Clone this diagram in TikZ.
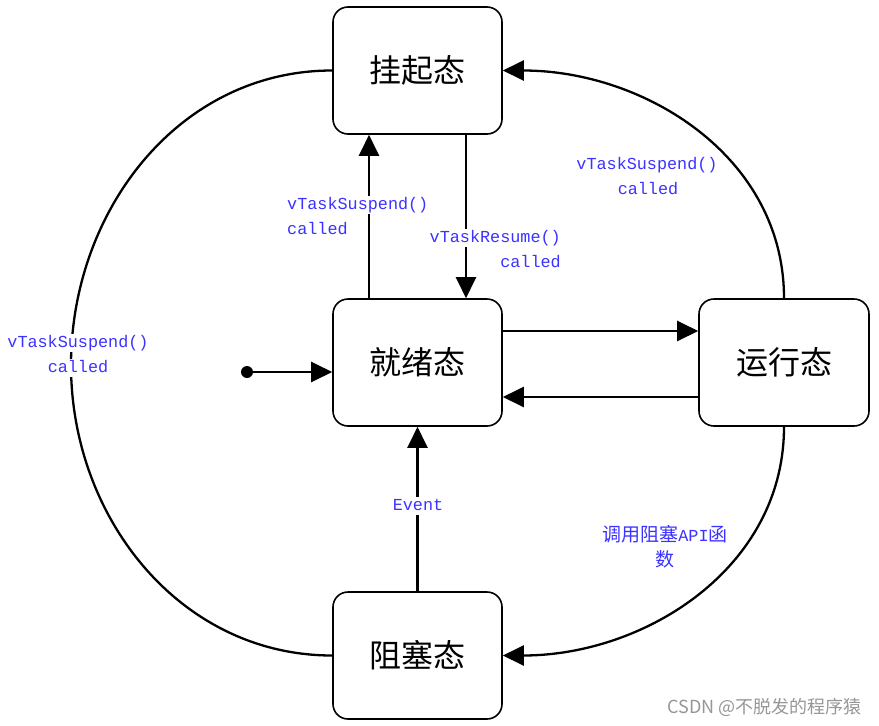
\documentclass[tikz,border=0pt]{standalone}
\usepackage{fontspec}
\newfontfamily\cjk{Noto Sans CJK SC}
\setmonofont{Liberation Mono}
\usetikzlibrary{arrows.meta}
\definecolor{lblue}{RGB}{60,50,255}
\definecolor{wm}{RGB}{150,150,150}
\tikzset{
  statebox/.style={draw, line width=1.6pt, rounded corners=15pt, minimum width=169pt, minimum height=127pt, inner sep=0pt, font=\cjk\fontsize{32}{38}\selectfont},
  conn/.style={line width=2.3pt},
  arr/.style={line width=2.3pt, -{Triangle[length=21pt,width=20pt]}},
  lbl/.style={fill=white, text=lblue, inner sep=1pt, text height=12pt, text depth=3.5pt, font=\ttfamily\fontsize{16.8}{25}\selectfont},
  lblcjk/.style={lbl, font=\fontsize{19}{25}\selectfont},
}
\begin{document}
\begin{tikzpicture}[x=1pt,y=-1pt]
\useasboundingbox (0,0) rectangle (879,726);
% states
\node[statebox] (susp) at (417.5,70.5) {挂起态};
\node[statebox] (rdy) at (417.5,362.5) {就绪态};
\node[statebox, minimum width=170pt] (run) at (784,362.5) {运行态};
\node[statebox] (blk) at (417.5,655.5) {阻塞态};
% initial
\node[circle, fill, inner sep=0pt, minimum size=12pt] (init) at (247,372) {};
\coordinate (lft) at (71,365);
% connectors
\draw[arr] (init) -- (init -| rdy.west);
\draw[arr] ([xshift=-48.5pt]rdy.north) -- ([xshift=-48.5pt]susp.south);
\draw[arr] ([xshift=48.5pt]susp.south) -- ([xshift=48.5pt]rdy.north);
\draw[arr] ([yshift=31.5pt]rdy.east) -- ([yshift=31.5pt]run.west);
\draw[arr] ([yshift=-34.5pt]run.west) -- ([yshift=-34.5pt]rdy.east);
\draw[arr] (blk.north) -- (rdy.south);
\draw[arr] (run.north) to[out=90,in=0] (susp.east);
\draw[arr] (run.south) to[out=-90,in=0] (blk.east);
\draw[conn] (susp.west) to[out=180,in=90] (lft) to[out=-90,in=180] (blk.west);
% labels
\node[lbl, anchor=west] (l1a) at (286,205) {vTaskSuspend()};
\node[lbl, anchor=west] (l1b) at (286,230) {called};
\node[lbl, anchor=east] (l2a) at (562,238) {vTaskResume()};
\node[lbl, anchor=east] (l2b) at (562,263) {called};
\node[lbl] (l3a) at (647,165) {vTaskSuspend()};
\node[lbl] (l3b) at (648,190) {called};
\node[lbl] (l4a) at (78,343) {vTaskSuspend()};
\node[lbl] (l4b) at (78,368) {called};
\node[lbl] (l5) at (418,506) {Event};
\node[lblcjk] (l6a) at (665,537) {{\cjk 调用阻塞}{\ttfamily\fontsize{16.8}{25}\selectfont API}{\cjk 函}};
\node[lblcjk] (l6b) at (665,562) {\cjk 数};
% watermark
\node[anchor=east, inner sep=0pt, text=wm, font=\cjk\fontsize{18}{20}\selectfont] (wmk) at (862,707) {CSDN @不脱发的程序猿};
\end{tikzpicture}
\end{document}
